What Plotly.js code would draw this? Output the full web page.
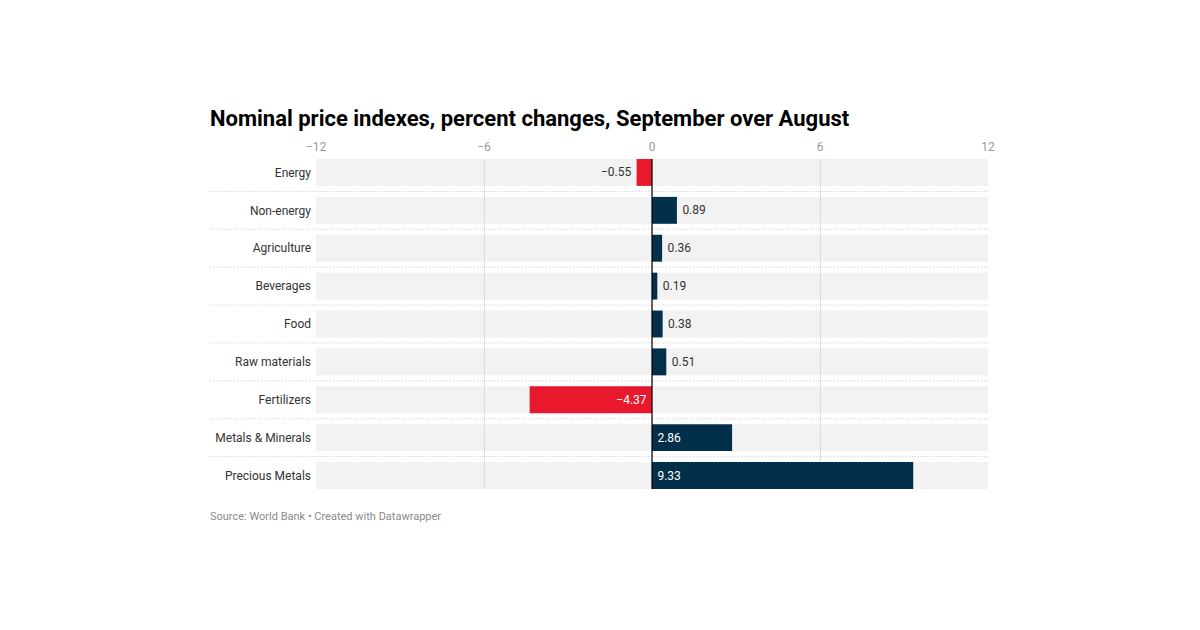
<!DOCTYPE html>
<html>
<head>
<meta charset="utf-8">
<script src="https://cdn.plot.ly/plotly-3.0.1.min.js"></script>
<style>html,body{margin:0;padding:0;background:#fff;}#chart{width:1200px;height:630px;}</style>
</head>
<body>
<div id="chart"></div>
<script>
const categories = ["Energy","Non-energy","Agriculture","Beverages","Food","Raw materials","Fertilizers","Metals & Minerals","Precious Metals"];
const values = [-0.55, 0.89, 0.36, 0.19, 0.38, 0.51, -4.37, 2.86, 9.33];
const tickValues = [-12, -6, 0, 6, 12];
const tickLabels = ["\u221212", "\u22126", "0", "6", "12"];
const axisRange = [-12, 12];

const RED = "#e8192c", NAVY = "#02304a";
const half = 0.355;

const isInside = v => Math.abs(v) > 2;
const fmt = v => {
  const s = (v < 0 ? "\u2212" : "") + Math.abs(v).toFixed(2);
  return v < 0 ? s + "\u2009" : "\u2009" + s;
};

const shapes = [];
categories.forEach((c, i) => {
  shapes.push({type:"rect", layer:"below", xref:"x", yref:"y", x0:axisRange[0], x1:axisRange[1], y0:i-half, y1:i+half, fillcolor:"#f2f2f2", line:{width:0}});
  if (i < categories.length - 1) {
    shapes.push({type:"line", layer:"below", xref:"paper", yref:"y", x0:-0.158, x1:1, y0:i+0.5, y1:i+0.5, line:{color:"#c4c4c4", width:1, dash:"1px,2px"}});
  }
});
shapes.push({type:"line", layer:"above", xref:"x", yref:"paper", x0:0, x1:0, y0:0, y1:1, line:{color:"#000", width:1.2}});

const trace = {
  type:"bar", orientation:"h",
  y: categories, x: values,
  marker:{color: values.map(v => v < 0 ? RED : NAVY)},
  width: 2*half,
  text: values.map(fmt),
  textposition: values.map(v => isInside(v) ? "inside" : "outside"),
  insidetextanchor: "start",
  insidetextfont:{family:"Roboto", size:12, color:"#ffffff"},
  outsidetextfont:{family:"Roboto", size:12, color:"#333333"},
  cliponaxis:false,
  hoverinfo:"skip"
};

const layout = {
  width:1200, height:630,
  margin:{l:316, r:212, t:158.5, b:140.5},
  paper_bgcolor:"#fff", plot_bgcolor:"rgba(0,0,0,0)",
  showlegend:false,
  title:{text:"<b>Nominal price indexes, percent changes, September over August</b>", x:210/1200, xanchor:"left", xref:"container", y:1-118/630, yanchor:"middle", yref:"container", font:{family:"Roboto", size:22, color:"#000"}},
  xaxis:{range:axisRange, side:"top", tickvals:tickValues, ticktext:tickLabels, showgrid:true, gridcolor:"#dddddd", gridwidth:1, zeroline:false, tickfont:{family:"Roboto", size:12, color:"#9a9a9a"}, ticks:"", ticklabelstandoff:5, fixedrange:true},
  yaxis:{type:"category", autorange:false, range:[categories.length-1+half, -half], showgrid:false, zeroline:false, ticks:"", tickfont:{family:"Roboto", size:12, color:"#333"}, ticklabelstandoff:4, fixedrange:true},
  shapes: shapes,
  annotations:[{text:"Source: World Bank \u2022 Created with Datawrapper", xref:"paper", yref:"paper", x:(208-316)/672, y:(489.5-517)/331, xanchor:"left", yanchor:"middle", showarrow:false, font:{family:"Roboto", size:11, color:"#8a8a8a"}}]
};

Plotly.newPlot("chart", [trace], layout, {displayModeBar:false, staticPlot:true});
</script>
</body>
</html>
